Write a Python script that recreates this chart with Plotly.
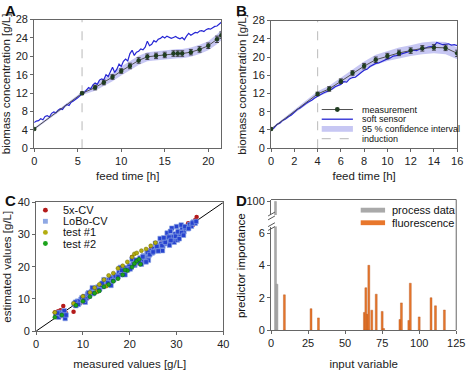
import plotly.graph_objects as go

W, H = 474, 370
def px(x):
    return x / W
def py(y):
    return 1 - y / H

FONT = "Liberation Sans, Arial, sans-serif"

# ---------------- Panel A data ----------------
a_meas_t = [0, 5.5, 7, 8, 9, 10, 11, 12, 13, 14, 15, 16, 16.5, 17, 18, 19, 20, 21, 21.5]
a_meas_v = [4.2, 11.95, 13.2, 14.3, 15.5, 16.8, 17.9, 19.1, 19.9, 20.1, 20.3, 20.6, 20.6, 20.6, 20.9, 21.5, 22.3, 23.7, 24.6]
a_err = [0.2, 0.3, 0.5, 0.5, 0.5, 0.5, 0.6, 0.6, 0.6, 0.6, 0.6, 0.6, 0.6, 0.6, 0.6, 0.6, 0.6, 0.7, 0.7]
a_ci_lo = [3.95, 11.6, 12.5, 13.5, 14.6, 15.8, 16.9, 18.1, 18.9, 19.1, 19.3, 19.6, 19.6, 19.6, 19.9, 20.5, 21.3, 22.6, 23.5]
a_ci_hi = [4.45, 12.3, 13.9, 15.1, 16.4, 17.8, 18.9, 20.1, 20.9, 21.1, 21.3, 21.6, 21.6, 21.6, 21.9, 22.5, 23.3, 24.8, 25.7]
a_soft_v = [5.6, 5.9, 6.0, 6.4, 6.2, 6.9, 7.1, 6.8, 7.6, 7.9, 7.7, 8.3, 8.6, 8.4, 9.1, 9.5,
            9.3, 10.0, 10.3, 10.6, 11.0, 11.4, 11.9, 12.1, 12.6, 13.2, 12.9, 13.8, 14.2, 13.9,
            14.8, 15.1, 14.9, 16.0, 15.6, 16.8, 17.6, 16.5, 17.2, 18.3, 17.8, 18.9, 19.4, 19.0,
            20.6, 21.3, 20.2, 20.9, 21.1, 21.6, 21.4, 22.0, 23.3, 22.3, 22.6, 23.4, 23.1, 23.7,
            23.9, 24.3, 24.0, 24.4, 24.2, 23.9, 24.1, 24.3, 24.0, 23.8, 24.1, 23.6, 24.4, 25.0,
            24.6, 24.9, 25.2, 25.1, 25.5, 25.6, 25.4, 25.8, 26.0, 25.9, 26.3, 26.5, 26.6, 27.0, 27.4]
a_soft_t = [i * 0.25 for i in range(len(a_soft_v))]
a_induction = 5.5

# ---------------- Panel B data ----------------
b_meas_t = [0, 4, 5, 6, 7, 8, 9, 10, 11, 12, 13, 14, 15, 16]
b_meas_v = [4.2, 11.9, 13.0, 14.7, 16.5, 18.0, 19.4, 20.2, 20.9, 21.4, 21.9, 22.1, 22.0, 20.8]
b_err = [0.2, 0.4, 0.5, 0.5, 0.5, 0.6, 0.6, 0.6, 0.6, 0.6, 0.6, 0.6, 0.6, 0.7]
b_ci_lo = [4.0, 11.3, 12.3, 13.9, 15.6, 17.0, 18.3, 19.1, 19.7, 20.2, 20.6, 20.8, 20.6, 19.5]
b_ci_hi = [4.4, 12.5, 13.7, 15.5, 17.4, 19.0, 20.5, 21.3, 22.1, 22.6, 23.2, 23.4, 23.3, 22.1]
b_soft_v = [4.0, 4.4, 5.2, 5.5, 6.1, 6.4, 6.9, 7.3, 7.9, 8.5, 8.8, 9.4, 9.8, 10.2, 10.5, 11.0,
            11.4, 11.8, 12.1, 12.4, 12.7, 13.0, 13.5, 13.7, 14.0, 14.6, 14.5, 15.2, 15.5, 15.6,
            16.2, 16.6, 17.1, 17.3, 17.9, 18.2, 18.6, 18.7, 19.0, 19.4, 19.6, 19.8, 20.2, 20.3,
            20.5, 20.8, 21.0, 21.1, 21.3, 21.5, 21.4, 21.7, 21.7, 22.0, 22.2, 22.3, 22.4, 23.2,
            23.0, 22.7, 22.8, 22.9, 22.6, 22.7, 22.5]
b_soft_t = [i * 0.25 for i in range(len(b_soft_v))]
b_induction = 4

# ---------------- Panel C data ----------------
lobo_x = [4.2, 4.8, 5.1, 5.5, 5.9, 6.2, 6.0, 5.3, 4.6, 6.4,
          8.1, 8.5, 8.8, 9.2, 9.6, 10.0, 10.3, 10.7, 11.0, 11.4,
          11.8, 12.1, 12.5, 12.9, 13.2, 13.6, 14.0, 14.3, 14.7, 15.1,
          15.5, 15.8, 16.2, 16.6, 17.0, 17.3, 17.7, 18.1, 18.5, 18.8,
          19.2, 19.6, 20.0, 20.3, 20.7, 21.1, 21.5, 21.8, 22.2, 22.6,
          23.0, 23.3, 23.7, 24.1, 24.5, 24.8, 25.2, 25.6, 26.0, 26.3,
          26.7, 27.1, 27.5, 27.8, 28.2, 28.6, 29.0, 29.3, 29.7, 30.1,
          30.5, 30.8, 31.2, 31.6, 32.0, 32.4, 32.8, 33.2, 33.6, 34.0,
          29.5, 30.2, 28.0, 29.0, 26.5, 24.0, 22.5, 18.0, 16.0, 31.0,
          27.0, 12.0, 10.5, 20.5, 23.5, 25.5, 30.0, 28.5, 19.0, 14.5,
          9.0, 11.6, 13.9, 16.9, 19.9, 22.9, 25.9, 27.4, 28.9, 31.9,
          8.4, 9.0, 9.8, 10.2, 11.2, 12.3, 12.7, 13.4, 14.1, 15.3,
          15.9, 16.4, 17.5, 18.3, 19.4, 20.1, 20.9, 21.3, 22.0, 22.8,
          23.9, 24.3, 25.0, 25.8, 26.9, 27.6, 28.4, 28.8, 29.8, 30.3,
          31.1, 31.8, 32.6, 33.4, 34.2, 28.7, 30.6, 31.5, 27.3, 26.1]
lobo_y = [5.0, 4.3, 5.8, 4.9, 5.5, 3.9, 6.3, 5.2, 5.6, 5.0,
          8.4, 7.9, 9.3, 8.7, 9.9, 9.4, 10.8, 10.2, 11.5, 10.9,
          12.3, 11.6, 12.9, 12.4, 13.7, 13.1, 14.5, 13.8, 15.2, 14.6,
          15.9, 15.3, 16.7, 16.0, 17.4, 16.8, 18.2, 17.5, 18.9, 18.3,
          19.7, 19.0, 20.4, 19.8, 21.1, 20.5, 21.8, 21.3, 22.7, 22.0,
          23.4, 22.8, 24.2, 23.5, 25.0, 24.3, 25.6, 25.0, 26.5, 25.7,
          27.2, 26.4, 28.0, 27.2, 28.7, 27.9, 29.4, 28.6, 30.2, 29.4,
          31.0, 30.1, 31.7, 30.9, 32.3, 31.8, 33.1, 32.6, 33.9, 33.5,
          27.6, 28.3, 30.5, 32.0, 28.8, 22.0, 20.8, 19.8, 14.2, 33.0,
          25.0, 13.5, 9.0, 22.3, 21.5, 27.3, 32.5, 26.7, 17.5, 16.0,
          9.3, 11.8, 14.2, 17.1, 20.1, 23.3, 26.2, 27.7, 29.3, 32.1,
          9.0, 8.3, 10.4, 9.6, 11.9, 11.8, 13.3, 12.8, 14.9, 15.0,
          16.4, 15.7, 17.0, 18.9, 19.2, 19.3, 20.6, 22.1, 21.3, 23.1,
          24.5, 23.8, 24.6, 26.3, 26.6, 27.6, 29.2, 28.2, 29.5, 30.9,
          30.6, 32.5, 31.9, 33.6, 34.1, 31.0, 28.7, 29.8, 29.0, 24.9]
cv5_x = [4.0, 4.7, 5.2, 5.8, 6.3, 5.0, 8.0, 8.3, 9.5, 11.0, 13.0, 15.0, 17.0, 19.0, 21.0,
         23.0, 24.5, 25.5, 27.0, 29.0, 30.5, 31.5, 32.5, 33.5, 34.3, 34.0, 20.5, 6.0, 22.0, 28.0]
cv5_y = [5.8, 6.2, 6.5, 7.8, 5.8, 4.5, 6.0, 7.9, 8.8, 10.3, 12.5, 14.2, 16.5, 18.4, 20.5,
         21.8, 25.5, 26.0, 27.8, 28.5, 30.0, 30.8, 33.5, 33.0, 35.5, 34.5, 23.0, 4.8, 21.0, 29.3]
t1_x = [4.0, 8.0, 10.0, 11.5, 12.5, 13.5, 14.5, 15.5, 16.5, 17.5, 18.5, 19.5, 20.5, 21.0,
        21.5, 22.5, 23.5, 24.5, 25.5, 13.0, 15.0]
t1_y = [5.8, 8.6, 10.8, 12.0, 13.5, 14.5, 16.0, 17.3, 18.0, 19.5, 20.3, 21.5, 23.0, 24.0,
        24.3, 25.0, 25.5, 26.5, 27.5, 12.2, 14.0]
t2_x = [4.0, 5.5, 8.5, 10.0, 11.5, 12.5, 13.5, 14.5, 15.5, 16.5, 17.5, 18.5, 19.5, 20.5,
        21.0, 21.5, 22.0, 22.3, 19.0]
t2_y = [4.3, 5.0, 8.0, 9.3, 10.7, 11.8, 12.5, 13.8, 14.5, 15.5, 16.3, 17.5, 18.8, 19.9,
        21.0, 21.8, 22.3, 20.8, 19.0]
c_diag = [0, 40]

# ---------------- Panel D data ----------------
proc_x = [3, 4]
proc_v = [100, 2.85]
fluo_x = [9, 27, 32, 63, 64, 65, 66, 68, 71, 75, 76, 87, 88, 93, 94, 100, 108, 111, 117]
fluo_v = [2.19, 1.33, 0.76, 1.1, 2.63, 0.98, 4.02, 1.24, 2.23, 1.16, 0.1, 0.66, 1.69, 0.6,
          2.91, 0.82, 2.01, 1.51, 1.25]

# ---------------- colours ----------------
BAND = "rgba(115,115,225,0.40)"
SOFT = "#2626d4"
MEAS_LINE = "#505050"
MEAS_MK = "#203d20"
IND = "#c4c4c4"
RED = "#b41a1a"
LOBO_F = "#8fa8e4"
LOBO_CORE = "#2743cf"
T1 = "#b3ad10"
T2 = "#1ca31c"
GRAY = "#a9a9a9"
ORANGE = "#e8772c"

fig = go.Figure()

def add_growth(xa, ya, mt, mv, err, lo, hi, st, sv, ind):
    fig.add_trace(go.Scatter(x=mt, y=lo, mode="lines", line=dict(width=0, color=BAND),
                             showlegend=False, hoverinfo="skip", xaxis=xa, yaxis=ya))
    fig.add_trace(go.Scatter(x=mt, y=hi, mode="lines", line=dict(width=0, color=BAND),
                             fill="tonexty", fillcolor=BAND, showlegend=False,
                             xaxis=xa, yaxis=ya))
    fig.add_trace(go.Scatter(x=[ind, ind], y=[0, 28], mode="lines",
                             line=dict(color=IND, width=1.2, dash="dash"),
                             showlegend=False, xaxis=xa, yaxis=ya))
    fig.add_trace(go.Scatter(x=st, y=sv, mode="lines", line=dict(color=SOFT, width=1.2),
                             showlegend=False, xaxis=xa, yaxis=ya))
    fig.add_trace(go.Scatter(x=mt, y=mv, mode="lines+markers",
                             line=dict(color=MEAS_LINE, width=1),
                             marker=dict(color=MEAS_MK, size=4.5),
                             error_y=dict(type="data", array=err, color="#222", thickness=0.8, width=2),
                             showlegend=False, xaxis=xa, yaxis=ya))

add_growth("x", "y", a_meas_t, a_meas_v, a_err, a_ci_lo, a_ci_hi, a_soft_t, a_soft_v, a_induction)
add_growth("x2", "y2", b_meas_t, b_meas_v, b_err, b_ci_lo, b_ci_hi, b_soft_t, b_soft_v, b_induction)

# Panel C
fig.add_trace(go.Scatter(x=c_diag, y=c_diag, mode="lines", line=dict(color="black", width=1),
                         showlegend=False, xaxis="x3", yaxis="y3"))
fig.add_trace(go.Scatter(x=cv5_x, y=cv5_y, mode="markers", name="5x-CV",
                         marker=dict(color=RED, size=4.5, line=dict(width=0)),
                         showlegend=False, xaxis="x3", yaxis="y3"))
fig.add_trace(go.Scatter(x=lobo_x, y=lobo_y, mode="markers", name="LoBo-CV",
                         marker=dict(color=LOBO_CORE, size=4.5, symbol="square",
                                     line=dict(color=LOBO_F, width=0.6)),
                         showlegend=False, xaxis="x3", yaxis="y3"))
fig.add_trace(go.Scatter(x=t1_x, y=t1_y, mode="markers", name="test #1",
                         marker=dict(color=T1, size=4, line=dict(color="#6e6a00", width=0.5)),
                         showlegend=False, xaxis="x3", yaxis="y3"))
fig.add_trace(go.Scatter(x=t2_x, y=t2_y, mode="markers", name="test #2",
                         marker=dict(color=T2, size=4, line=dict(color="#0a660a", width=0.5)),
                         showlegend=False, xaxis="x3", yaxis="y3"))

# Panel D (broken axis: lower y4, upper y5)
for ya in ("y4", "y5"):
    fig.add_trace(go.Bar(x=proc_x, y=proc_v, width=1.3, marker=dict(color=GRAY, line=dict(color="#8a8a8a", width=0.4)),
                         showlegend=False, xaxis="x4", yaxis=ya))
    fig.add_trace(go.Bar(x=fluo_x, y=fluo_v, width=1.3, marker=dict(color=ORANGE, line=dict(color="#b0501a", width=0.4)),
                         showlegend=False, xaxis="x4", yaxis=ya))

AX = dict(showline=True, linecolor="#666", linewidth=1, ticks="outside", ticklen=3,
          tickcolor="#666", showgrid=False, zeroline=False,
          tickfont=dict(family=FONT, size=11, color="#222"),
          title_font=dict(family=FONT, size=11.5, color="#222"))

A_x = [px(32), px(224)]
A_y = [py(147), py(14)]
B_x = [px(275), px(466)]
B_y = [py(147), py(15)]
C_x = [px(34), px(226)]
C_y = [py(336), py(203)]
D_x = [px(275), px(465)]
D_ylo = [py(335), py(228)]
D_yhi = [py(216), py(200)]

fig.update_layout(
    width=W, height=H, margin=dict(l=0, r=0, t=0, b=0),
    paper_bgcolor="white", plot_bgcolor="white", barmode="overlay",
    font=dict(family=FONT, color="#222"),
    xaxis=dict(AX, domain=A_x, anchor="y", range=[0, 21.5], tickvals=[0, 5, 10, 15, 20], mirror=True,
               title=dict(text="feed time [h]", standoff=5)),
    yaxis=dict(AX, domain=A_y, anchor="x", range=[0, 28], dtick=4, mirror=True,
               title=dict(text="biomass concentration [g/L]", standoff=3)),
    xaxis2=dict(AX, domain=B_x, anchor="y2", range=[0, 16], dtick=2, mirror=True,
                title=dict(text="feed time [h]", standoff=5)),
    yaxis2=dict(AX, domain=B_y, anchor="x2", range=[0, 28], dtick=4, mirror=True,
                title=dict(text="biomass concentration [g/L]", standoff=3)),
    xaxis3=dict(AX, domain=C_x, anchor="y3", range=[0, 40], dtick=10, mirror=True,
                title=dict(text="measured values [g/L]", standoff=11)),
    yaxis3=dict(AX, domain=C_y, anchor="x3", range=[0, 40], dtick=10, mirror=True,
                title=dict(text="estimated values [g/L]", standoff=3)),
    xaxis4=dict(AX, domain=D_x, anchor="y4", range=[0, 125], tickvals=[0, 25, 50, 75, 100, 125],
                title=dict(text="input variable", standoff=11)),
    yaxis4=dict(AX, domain=D_ylo, anchor="x4", range=[0, 6.42], tickvals=[0, 2, 4, 6]),
    yaxis5=dict(AX, domain=D_yhi, anchor="x4", range=[99.16, 100.12], tickvals=[100]),
)

shapes = []
# D frame top and right
shapes.append(dict(type="line", xref="paper", yref="paper", x0=D_x[0], x1=D_x[1], y0=D_yhi[1], y1=D_yhi[1],
                   line=dict(color="#666", width=1)))
shapes.append(dict(type="line", xref="paper", yref="paper", x0=D_x[1], x1=D_x[1], y0=D_ylo[0], y1=D_yhi[1],
                   line=dict(color="#666", width=1)))
# break marks
for yb in (215, 219, 226, 230):
    shapes.append(dict(type="line", xref="paper", yref="paper", x0=px(272), x1=px(279), y0=py(yb + 2), y1=py(yb - 2),
                       line=dict(color="#555", width=1)))

ann = []
def text(x, y, s, size=11, bold=False, xanchor="left", angle=0):
    ann.append(dict(x=px(x), y=py(y), xref="paper", yref="paper", text=("<b>%s</b>" % s) if bold else s,
                    showarrow=False, xanchor=xanchor, yanchor="middle", textangle=angle,
                    font=dict(family=FONT, size=size, color="#111")))

# panel letters
text(0, 5, "A", 15, True)
text(237, 5, "B", 15, True)
text(0, 201, "C", 15, True)
text(237, 201, "D", 15, True)
text(245, 268, "predictor importance", 11.5, False, "center", -90)

# legend B
rows_b = [107, 117, 127, 137]
shapes.append(dict(type="line", xref="paper", yref="paper", x0=px(327), x1=px(359), y0=py(rows_b[0]), y1=py(rows_b[0]),
                   line=dict(color=MEAS_LINE, width=1)))
shapes.append(dict(type="circle", xref="paper", yref="paper", x0=px(340.5), x1=px(345.5), y0=py(rows_b[0] + 2.5),
                   y1=py(rows_b[0] - 2.5), fillcolor=MEAS_MK, line=dict(width=0)))
shapes.append(dict(type="line", xref="paper", yref="paper", x0=px(327), x1=px(359), y0=py(rows_b[1]), y1=py(rows_b[1]),
                   line=dict(color=SOFT, width=1.3)))
shapes.append(dict(type="rect", xref="paper", yref="paper", x0=px(327), x1=px(359), y0=py(rows_b[2] + 3),
                   y1=py(rows_b[2] - 3), fillcolor=BAND, line=dict(width=0)))
shapes.append(dict(type="line", xref="paper", yref="paper", x0=px(327), x1=px(359), y0=py(rows_b[3]), y1=py(rows_b[3]),
                   line=dict(color=IND, width=1.2, dash="dash")))
for r, s in zip(rows_b, ["measurement", "soft sensor", "95 % confidence interval", "induction"]):
    text(366, r, s, 9)

# legend C
rows_c = [211, 222.5, 234, 245.5]
cols_c = [RED, LOBO_F, T1, T2]
for i, (r, s) in enumerate(zip(rows_c, ["5x-CV", "LoBo-CV", "test #1", "test #2"])):
    if i == 1:
        shapes.append(dict(type="rect", xref="paper", yref="paper", x0=px(41), x1=px(46), y0=py(r + 2.5),
                           y1=py(r - 2.5), fillcolor=cols_c[i], line=dict(width=0)))
    else:
        shapes.append(dict(type="circle", xref="paper", yref="paper", x0=px(41), x1=px(46), y0=py(r + 2.5),
                           y1=py(r - 2.5), fillcolor=cols_c[i], line=dict(width=0)))
    text(59, r, s, 11)

# legend D
rows_d = [211, 224]
for r, s, c in zip(rows_d, ["process data", "fluorescence"], [GRAY, ORANGE]):
    shapes.append(dict(type="rect", xref="paper", yref="paper", x0=px(367), x1=px(392), y0=py(r + 2.5),
                       y1=py(r - 2.5), fillcolor=c, line=dict(width=0)))
    text(397, r, s, 11)

fig.update_layout(shapes=shapes, annotations=ann)
fig.write_html("out.html", config={"displayModeBar": False},
               post_script="document.body.style.margin='0';document.body.style.overflow='hidden';")
